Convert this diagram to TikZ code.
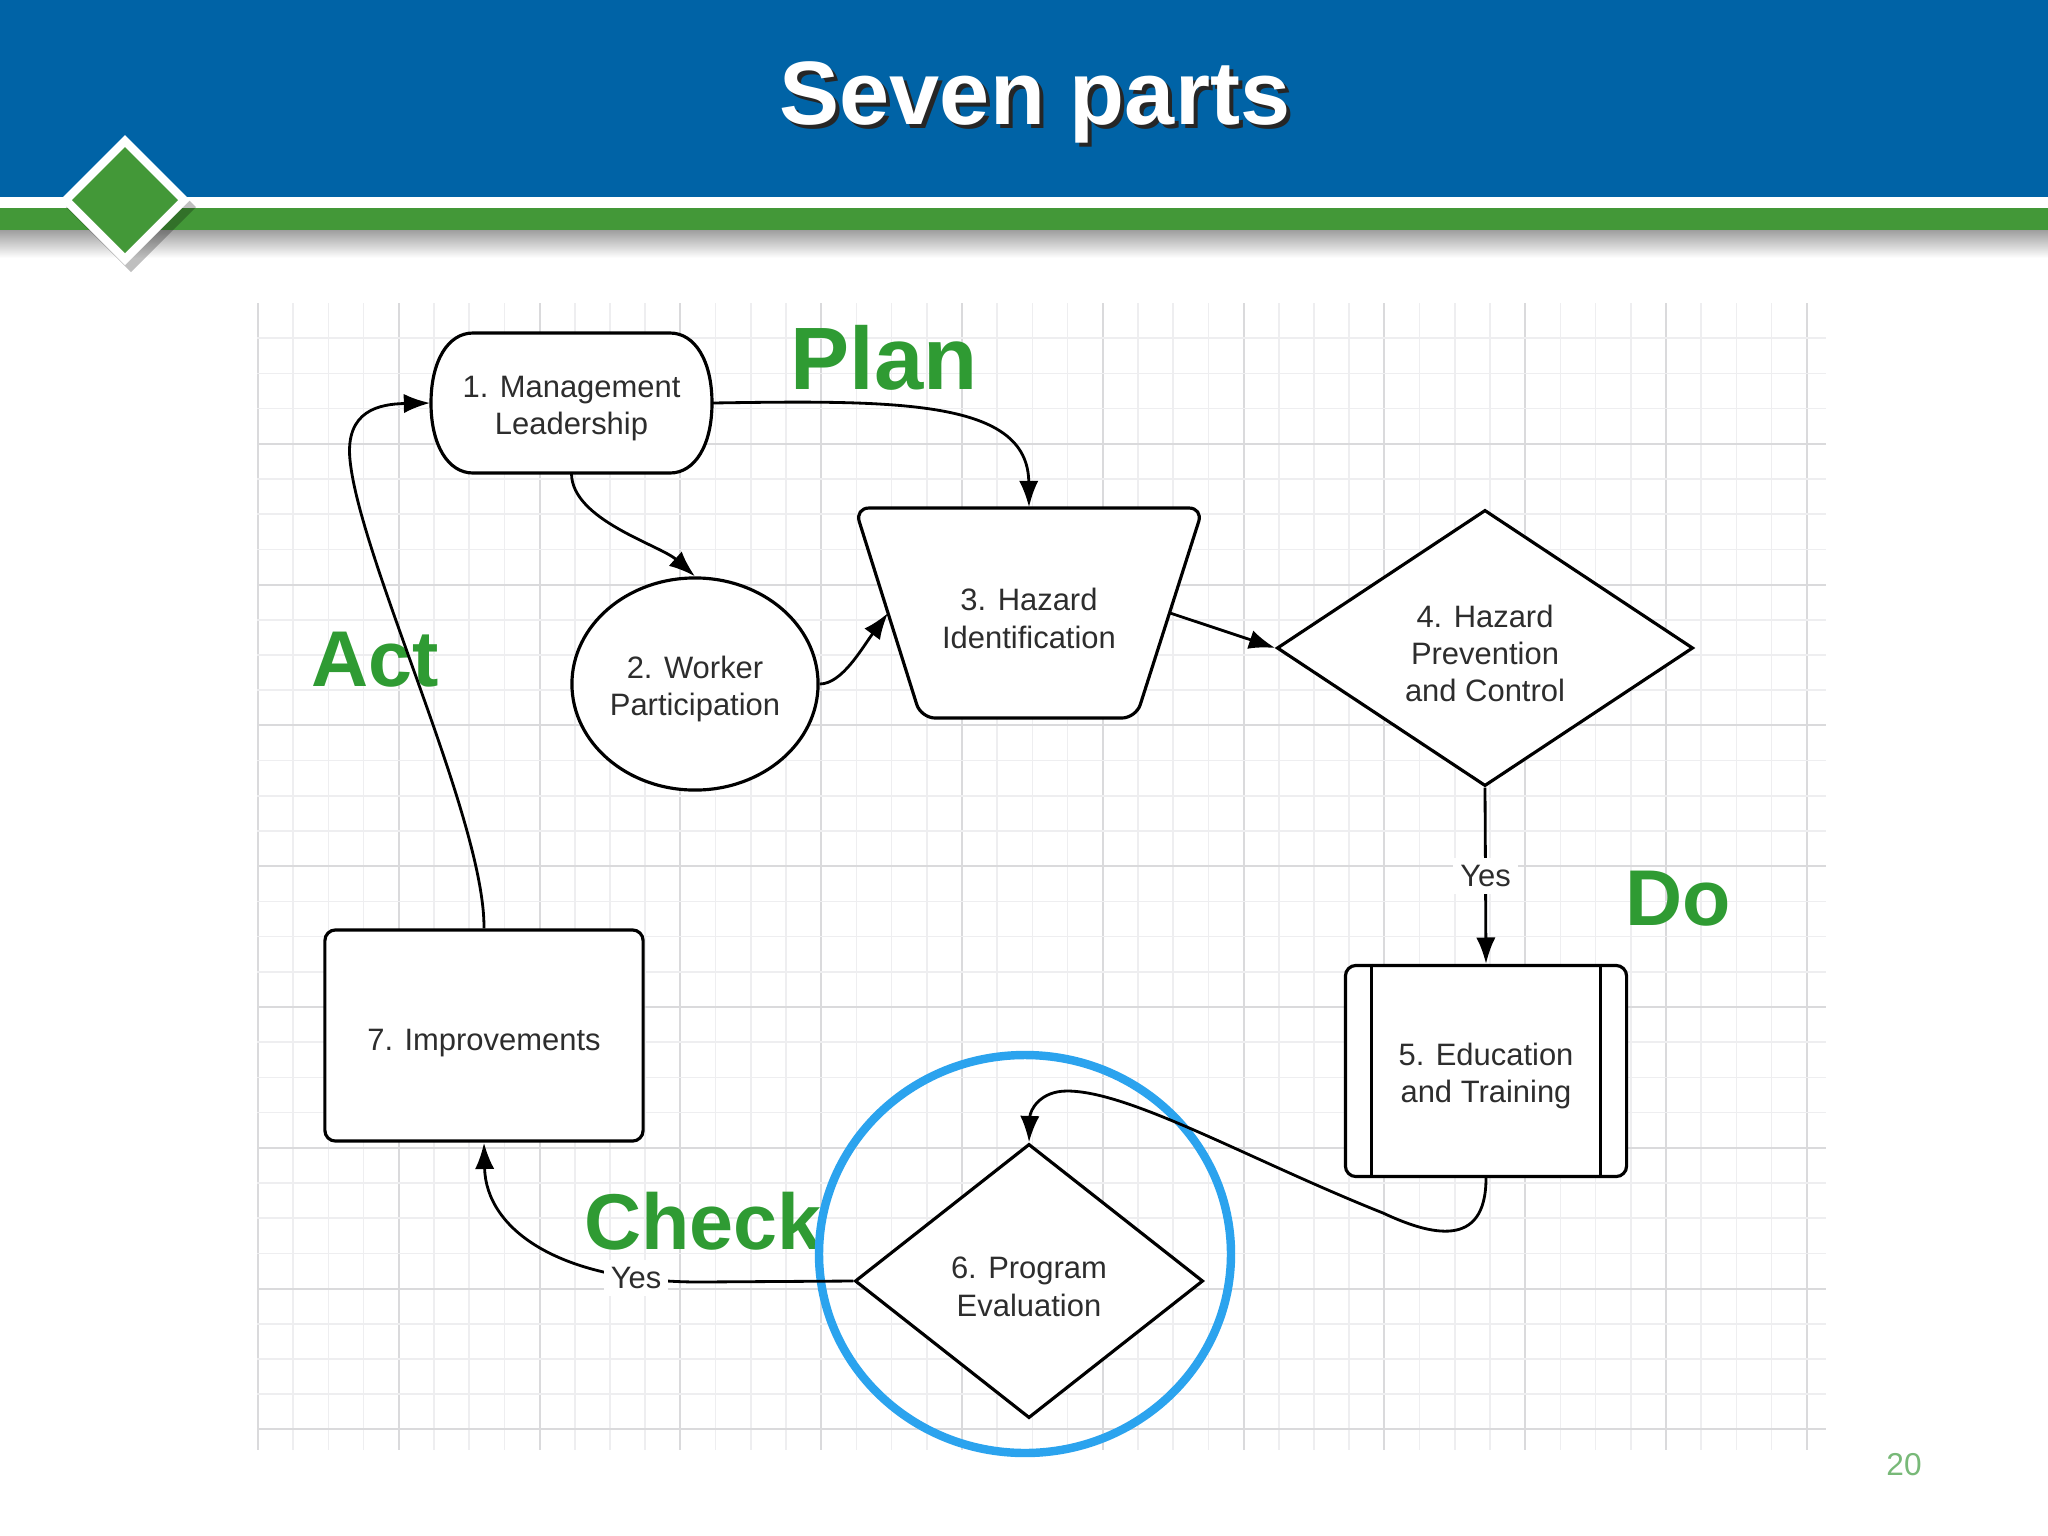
\documentclass[tikz,border=0pt]{standalone}
\usepackage{fontspec}
\setmainfont{Liberation Sans}
\usetikzlibrary{shapes.geometric, arrows.meta}

\definecolor{hdrblue}{RGB}{0,99,166}
\definecolor{hdrgreen}{RGB}{67,152,56}
\definecolor{lblgreen}{RGB}{47,155,51}
\definecolor{circblue}{RGB}{43,163,238}
\definecolor{txtgray}{RGB}{45,45,45}
\definecolor{pgnum}{RGB}{120,185,120}
\definecolor{gridmincol}{RGB}{238,238,240}
\definecolor{gridmajcol}{RGB}{218,218,220}
\newcommand\tup{\rule{0pt}{9.4pt}}

\begin{document}
\begin{tikzpicture}[x=0.01cm, y=-0.01cm,
  nodeline/.style={draw=black, line width=0.9pt, fill=white},
  ntext/.style={font=\fontsize{8.8}{10.6}\selectfont, text=txtgray, align=center, inner sep=0pt},
  conn/.style={draw=black, line width=0.8pt, -{Latex[length=7.5pt,width=5.5pt]}},
  phase/.style={font=\fontsize{22.5}{26}\bfseries\selectfont, text=lblgreen, inner sep=0pt, anchor=base},
  lbl/.style={font=\fontsize{8.8}{10}\selectfont, text=txtgray, fill=white, inner sep=2pt},
  gridmin/.style={draw=gridmincol, line width=0.5pt},
  gridmaj/.style={draw=gridmajcol, line width=0.6pt},
]
\useasboundingbox (0,0) rectangle (2048,1536);
\fill[white] (0,0) rectangle (2048,1536);

% ---------- header ----------
\fill[hdrblue] (0,0) rectangle (2048,197);
\fill[white] (0,197) rectangle (2048,208);
\fill[hdrgreen] (0,208) rectangle (2048,230);
\shade[top color=black!38, bottom color=white] (0,230) rectangle (2048,258);
\fill[black, opacity=0.25] (131,142) -- (196,207) -- (131,272) -- (66,207) -- cycle;
\fill[white] (125,135) -- (190,200) -- (125,265) -- (60,200) -- cycle;
\fill[hdrgreen] (125,147) -- (178,200) -- (125,253) -- (72,200) -- cycle;
\node[font=\fontsize{25.6}{30}\bfseries\selectfont, text=black!85, anchor=base, inner sep=0pt] (titleshadow) at (1039,128) {Seven parts};
\node[font=\fontsize{25.6}{30}\bfseries\selectfont, text=white, anchor=base, inner sep=0pt] (title) at (1035,124) {Seven parts};

% ---------- grid ----------
\foreach \i in {0,...,44}{
  \pgfmathtruncatemacro\m{mod(\i,4)}
  \ifnum\m=0
    \draw[gridmaj] (258+35.2*\i,303) -- (258+35.2*\i,1450);
  \else
    \draw[gridmin] (258+35.2*\i,303) -- (258+35.2*\i,1450);
  \fi
}
\foreach \j in {1,...,32}{
  \pgfmathtruncatemacro\m{mod(\j,4)}
  \ifnum\m=0
    \draw[gridmaj] (257,303+35.2*\j) -- (1826,303+35.2*\j);
  \else
    \draw[gridmin] (257,303+35.2*\j) -- (1826,303+35.2*\j);
  \fi
}

% ---------- phase labels ----------
\node[phase, font=\fontsize{25.2}{29}\bfseries\selectfont] (plan) at (884,389) {Plan};
\node[phase] (act) at (375,686) {Act};
\node[phase] (do) at (1678,925) {Do};
\node[phase] (check) at (703,1249) {Check};

% ---------- highlight ring ----------
\draw[circblue, line width=2.4pt] (1025,1254) ellipse [x radius=206, y radius=199];

% ---------- nodes ----------
\draw[nodeline] (473,333) -- (670,333) .. controls (695,333) and (712,361) .. (712,403)
  .. controls (712,445) and (695,473) .. (670,473) -- (473,473)
  .. controls (448,473) and (431,445) .. (431,403)
  .. controls (431,361) and (448,333) .. (473,333) -- cycle;
\node[ntext, minimum width=2.81cm, minimum height=1.40cm] (n1) at (571.5,403) {\tup1. Management\\Leadership};

\node[nodeline, ellipse, minimum width=2.46cm, minimum height=2.12cm, ntext] (n2) at (695,684) {\tup2. Worker\\Participation};

\draw[nodeline, rounded corners=4pt] (855,508) -- (1203,508) -- (1136,718) -- (921,718) -- cycle;
\node[ntext, minimum width=3.48cm, minimum height=2.10cm] (n3) at (1029,613) {\tup3. Hazard\\Identification};
\coordinate (n3w) at (888,613);
\coordinate (n3e) at (1170,613);

\node[nodeline, diamond, minimum width=4.16cm, minimum height=2.76cm, ntext] (n4) at (1485,648) {\tup4. Hazard\\Prevention\\and Control};

\node[nodeline, rectangle, rounded corners=3pt, minimum width=2.81cm, minimum height=2.11cm, ntext] (n5) at (1486,1071) {\tup5. Education\\and Training};
\draw[draw=black, line width=0.9pt] ([xshift=0.28cm]n5.north west) -- ([xshift=0.28cm]n5.south west);
\draw[draw=black, line width=0.9pt] ([xshift=-0.28cm]n5.north east) -- ([xshift=-0.28cm]n5.south east);

\node[nodeline, diamond, minimum width=3.48cm, minimum height=2.74cm, ntext] (n6) at (1029,1281) {\tup6. Program\\Evaluation};

\node[nodeline, rectangle, rounded corners=3pt, minimum width=3.18cm, minimum height=2.11cm, ntext] (n7) at (484,1035.5) {\rule{0pt}{10.5pt}7. Improvements};

% ---------- connectors ----------
\draw[conn] (n1.east) .. controls (900,400) and (1028,400) .. (n3.north);
\draw[conn] (n1.south) .. controls (572,520) and (660,545) .. (n2.north);
\draw[conn] (n2.east) .. controls (842,684) and (862,648) .. (n3w);
\draw[conn] (n3e) -- (n4.west);
\draw[conn] (n4.south) -- node[lbl] (yes1) {Yes} (n5.north);
\draw[conn] (n5.south) .. controls (1486,1250) and (1430,1235) .. (1383,1213)
  .. controls (1250,1160) and (1130,1091) .. (1067,1091)
  .. controls (1040,1091) and (1030,1110) .. (n6.north);
\draw[conn] (n6.west) -- (700,1282) .. controls (560,1282) and (486,1230) .. (n7.south);
\node[lbl] (yes2) at (636,1278) {Yes};
\draw[conn] (n7.north) .. controls (485,820) and (360,560) .. (350,460)
  .. controls (345,410) and (380,404) .. (n1.west);

% ---------- page number ----------
\node[font=\fontsize{9}{10}\selectfont, text=pgnum] (pg) at (1904,1465) {20};
\end{tikzpicture}
\end{document}
